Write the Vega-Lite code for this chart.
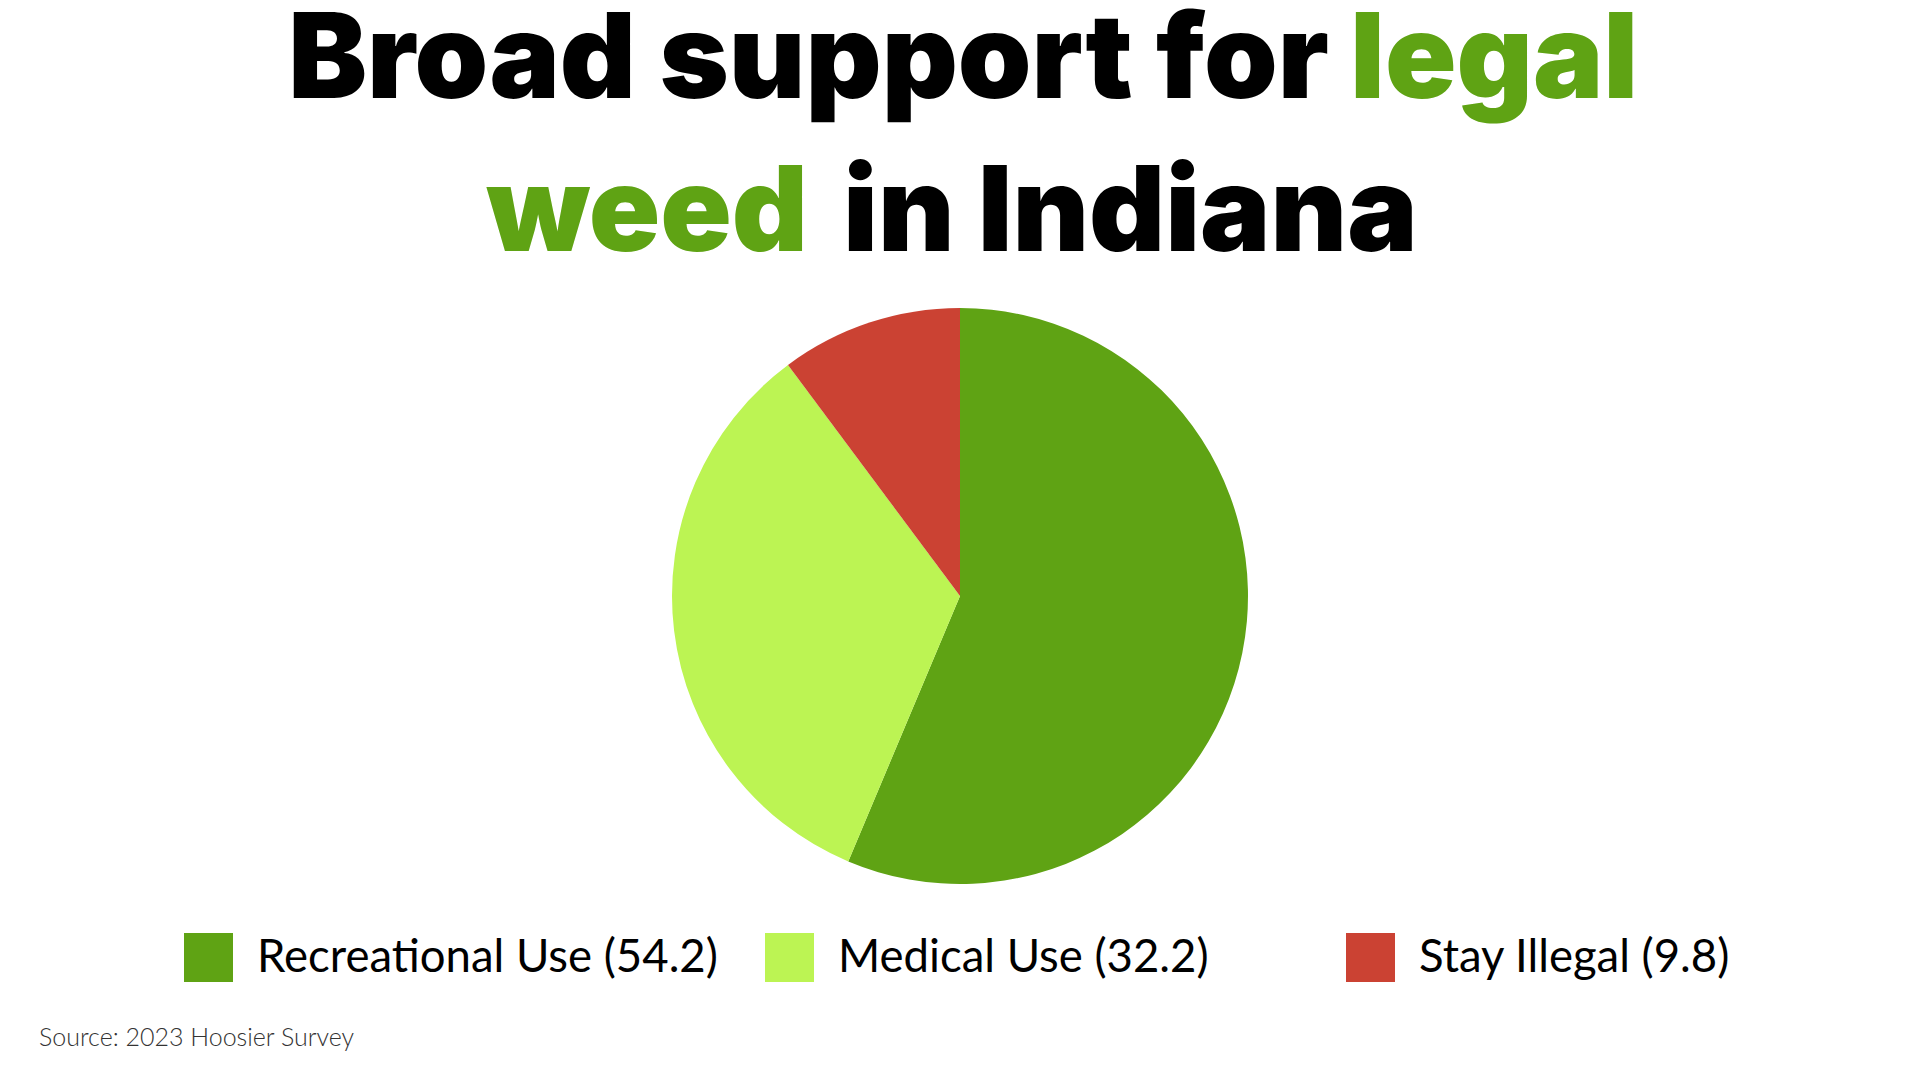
{
  "$schema": "https://vega.github.io/schema/vega-lite/v6.json",
  "width": 1920,
  "height": 968,
  "autosize": "none",
  "padding": {"top": 112, "left": 0, "right": 0, "bottom": 0},
  "background": "white",
  "config": {"view": {"stroke": null}},
  "datasets": {
    "survey": [
      {"choice": "Recreational Use (54.2)", "share": 54.2, "rank": 1},
      {"choice": "Medical Use (32.2)", "share": 32.2, "rank": 2},
      {"choice": "Stay Illegal (9.8)", "share": 9.8, "rank": 3}
    ],
    "note": [{"label": "Source: 2023 Hoosier Survey"}]
  },
  "layer": [
    {
      "data": {"name": "survey"},
      "mark": {"type": "arc", "outerRadius": 288},
      "encoding": {
        "theta": {"field": "share", "type": "quantitative", "stack": true},
        "order": {"field": "rank", "type": "quantitative"},
        "color": {
          "field": "choice",
          "type": "nominal",
          "sort": ["Recreational Use (54.2)", "Medical Use (32.2)", "Stay Illegal (9.8)"],
          "scale": {
            "domain": ["Recreational Use (54.2)", "Medical Use (32.2)", "Stay Illegal (9.8)"],
            "range": ["#5fa314", "#bcf453", "#cb4233"]
          },
          "legend": {
            "title": null,
            "orient": "none",
            "legendX": 184,
            "legendY": 821,
            "direction": "horizontal",
            "gridAlign": "all",
            "columnPadding": 47,
            "symbolType": "square",
            "symbolSize": 2401,
            "symbolStrokeWidth": 0,
            "symbolOpacity": 1,
            "labelFont": "Lato",
            "labelFontSize": 45.5,
            "labelColor": "#000000",
            "labelOffset": 24,
            "labelLimit": 800
          }
        }
      }
    },
    {
      "data": {"name": "note"},
      "mark": {"type": "text", "text": "Broad support for", "x": 1329, "y": -14, "align": "right", "baseline": "alphabetic", "font": "Inter", "fontWeight": 900, "fontSize": 118, "color": "#000000"},
      "encoding": {}
    },
    {
      "data": {"name": "note"},
      "mark": {"type": "text", "text": "legal", "x": 1350, "y": -14, "align": "left", "baseline": "alphabetic", "font": "Inter", "fontWeight": 900, "fontSize": 118, "color": "#5fa314"},
      "encoding": {}
    },
    {
      "data": {"name": "note"},
      "mark": {"type": "text", "text": "weed", "x": 808, "y": 139, "align": "right", "baseline": "alphabetic", "font": "Inter", "fontWeight": 900, "fontSize": 118, "color": "#5fa314"},
      "encoding": {}
    },
    {
      "data": {"name": "note"},
      "mark": {"type": "text", "text": "in Indiana", "x": 843, "y": 139, "align": "left", "baseline": "alphabetic", "font": "Inter", "fontWeight": 900, "fontSize": 118, "color": "#000000"},
      "encoding": {}
    },
    {
      "data": {"name": "note"},
      "mark": {"type": "text", "x": 39, "y": 934, "align": "left", "baseline": "alphabetic", "font": "Lato", "fontWeight": 300, "fontSize": 25, "color": "#333333"},
      "encoding": {"text": {"field": "label"}}
    }
  ]
}
